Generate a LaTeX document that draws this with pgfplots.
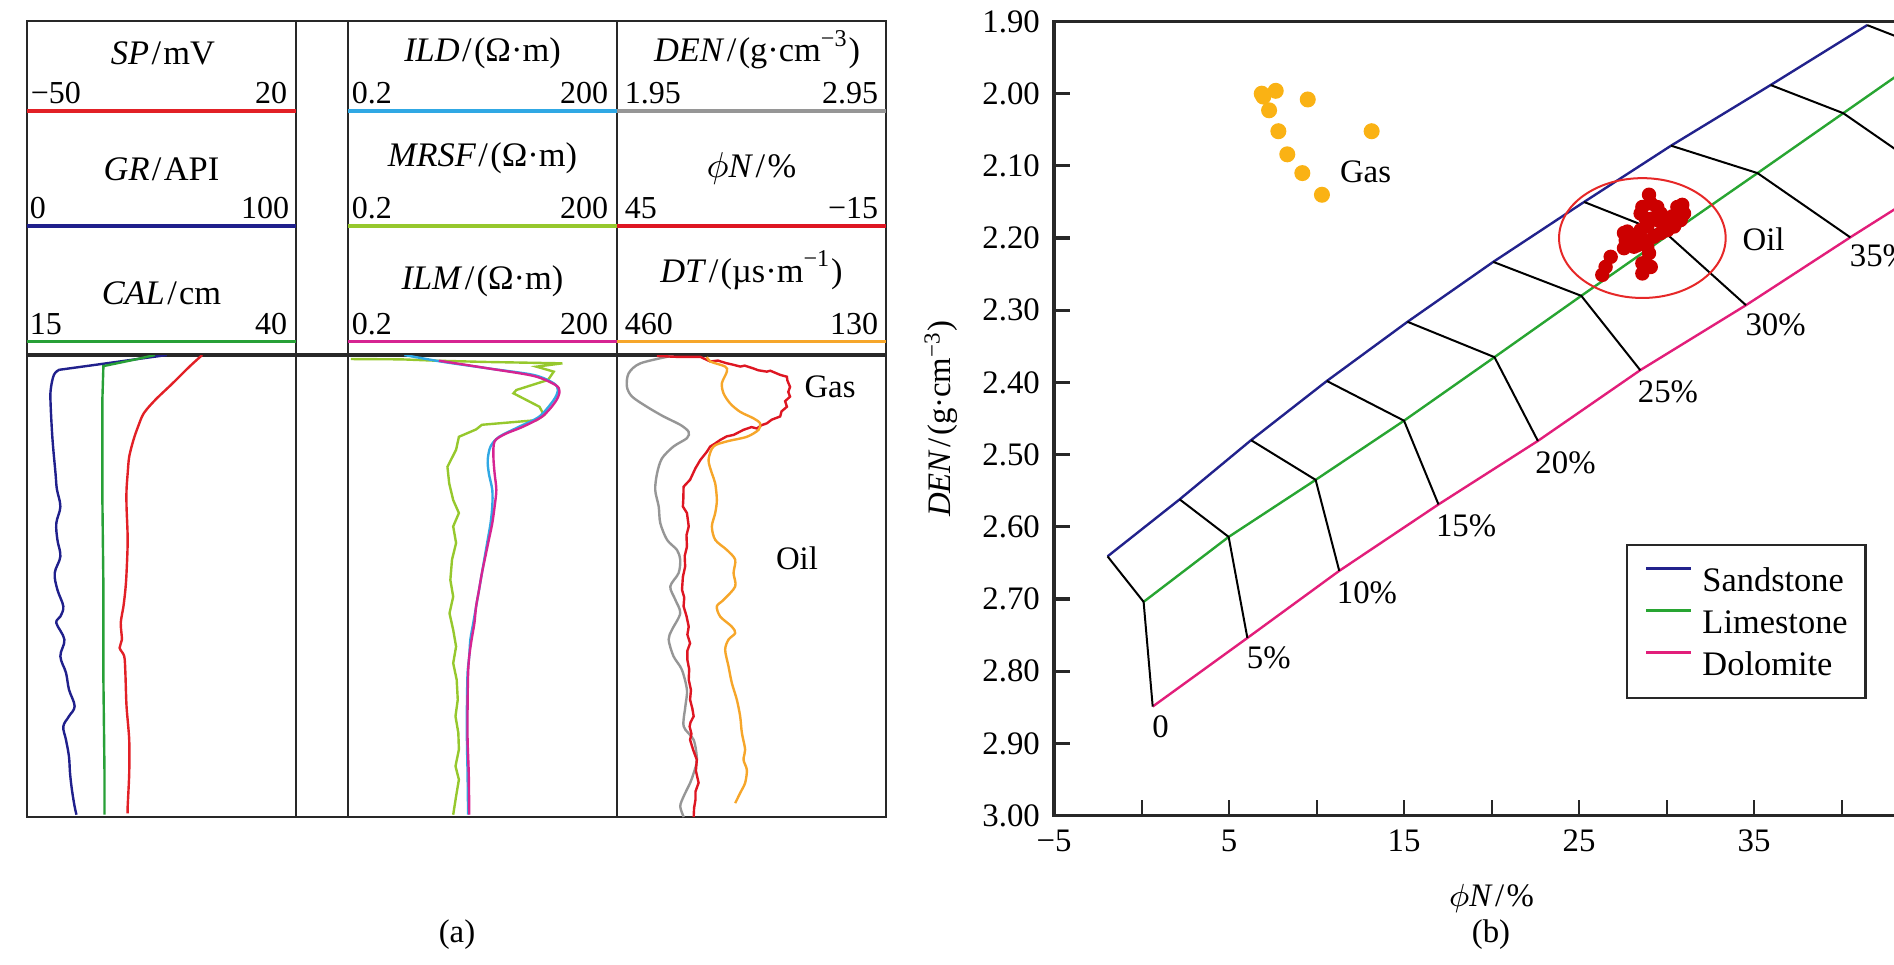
\documentclass[border=0pt]{standalone}
\usepackage{fontspec}
\setmainfont{Liberation Serif}
\usepackage{pgfplots}
\pgfplotsset{compat=1.18}

% curve and line colours
\definecolor{spc}{RGB}{226,32,38}
\definecolor{grc}{RGB}{32,32,140}
\definecolor{calc}{RGB}{40,160,55}
\definecolor{ildc}{RGB}{48,168,228}
\definecolor{mrsfc}{RGB}{150,200,45}
\definecolor{ilmc}{RGB}{214,36,146}
\definecolor{denc}{RGB}{150,150,150}
\definecolor{cnlc}{RGB}{222,22,34}
\definecolor{dtc}{RGB}{246,166,42}
\definecolor{sandc}{RGB}{34,34,140}
\definecolor{limec}{RGB}{40,165,50}
\definecolor{dolc}{RGB}{226,30,122}
\definecolor{gasc}{RGB}{250,178,20}
\definecolor{oilc}{RGB}{204,0,0}
\definecolor{ringc}{RGB}{230,40,40}
\definecolor{framec}{RGB}{40,40,40}

\newcommand\ftitle{\fontsize{8.6pt}{10pt}\selectfont}
\newcommand\fnum{\fontsize{8pt}{9pt}\selectfont}
\newcommand\flab{\fontsize{8.2pt}{10pt}\selectfont}
\newcommand\ftick{\fontsize{8.2pt}{9pt}\selectfont}
\newcommand\unitsep{\kern0.6pt/\kern0.6pt}

\pgfplotsset{
  track/.style={scale only axis, width=67.25pt, height=115.5pt,
    anchor=south west, ymin=0, ymax=100, y dir=reverse, hide axis},
  curve/.style={line width=0.6pt},
}

\begin{document}
\begin{tikzpicture}
\useasboundingbox (0,0) rectangle (473.5pt,-241pt);

% ---------- (a) log display: frame and header ----------
\begin{scope}[x=0.25pt,y=-0.25pt]
  \draw[framec, line width=0.6pt] (27,20.7) rectangle (886,817);
  \draw[framec, line width=0.6pt] (296,20.7) -- (296,817) (348,20.7) -- (348,817) (617,20.7) -- (617,817);
  \draw[framec, line width=0.8pt] (27,355) -- (886,355);
  % scale bars
  \draw[spc,  line width=0.9pt] (27,111) -- (296,111);
  \draw[grc,  line width=0.9pt] (27,226) -- (296,226);
  \draw[calc, line width=0.9pt] (27,341.5) -- (296,341.5);
  \draw[ildc, line width=0.9pt] (348,111) -- (617,111);
  \draw[mrsfc,line width=0.9pt] (348,226) -- (617,226);
  \draw[ilmc, line width=0.9pt] (348,341.5) -- (617,341.5);
  \draw[denc, line width=0.9pt] (617,111) -- (886,111);
  \draw[cnlc, line width=0.9pt] (617,226) -- (886,226);
  \draw[dtc,  line width=0.9pt] (617,341.5) -- (886,341.5);
  % curve names
  \node[anchor=base, font=\ftitle] at (163,65) {\textit{SP}\unitsep mV};
  \node[anchor=base, font=\ftitle] at (161.5,180) {\textit{GR}\unitsep API};
  \node[anchor=base, font=\ftitle] at (161.5,304) {\textit{CAL}\unitsep cm};
  \node[anchor=base, font=\ftitle] at (482.5,61) {\textit{ILD}\unitsep(Ω·m)};
  \node[anchor=base, font=\ftitle] at (482.5,166) {\textit{MRSF}\unitsep(Ω·m)};
  \node[anchor=base, font=\ftitle] at (482.5,289) {\textit{ILM}\unitsep(Ω·m)};
  \node[anchor=base, font=\ftitle] at (757,62) {\textit{DEN}\unitsep(g·cm\textsuperscript{−3})};
  \node[anchor=base, font=\ftitle] at (751.5,177) {$\phi$\textit{N}\unitsep\%};
  \node[anchor=base, font=\ftitle] at (751.5,282) {\textit{DT}\unitsep(µs·m\textsuperscript{−1})};
  % scale ends
  \node[anchor=base west, inner sep=0pt, font=\fnum] at (30,103) {−50};
  \node[anchor=base east, inner sep=0pt, font=\fnum] at (288,103) {20};
  \node[anchor=base west, inner sep=0pt, font=\fnum] at (29,218) {0};
  \node[anchor=base east, inner sep=0pt, font=\fnum] at (290,218) {100};
  \node[anchor=base west, inner sep=0pt, font=\fnum] at (29,334) {15};
  \node[anchor=base east, inner sep=0pt, font=\fnum] at (288,334) {40};
  \node[anchor=base west, inner sep=0pt, font=\fnum] at (351,103) {0.2};
  \node[anchor=base east, inner sep=0pt, font=\fnum] at (609,103) {200};
  \node[anchor=base west, inner sep=0pt, font=\fnum] at (351,218) {0.2};
  \node[anchor=base east, inner sep=0pt, font=\fnum] at (609,218) {200};
  \node[anchor=base west, inner sep=0pt, font=\fnum] at (351,334) {0.2};
  \node[anchor=base east, inner sep=0pt, font=\fnum] at (609,334) {200};
  \node[anchor=base west, inner sep=0pt, font=\fnum] at (624,103) {1.95};
  \node[anchor=base east, inner sep=0pt, font=\fnum] at (879,103) {2.95};
  \node[anchor=base west, inner sep=0pt, font=\fnum] at (624,218) {45};
  \node[anchor=base east, inner sep=0pt, font=\fnum] at (879,218) {−15};
  \node[anchor=base west, inner sep=0pt, font=\fnum] at (624,334) {460};
  \node[anchor=base east, inner sep=0pt, font=\fnum] at (879,334) {130};
  % zone names and panel captions
  \node[font=\flab] at (830,387) {Gas};
  \node[font=\flab] at (797,558) {Oil};
  \node[anchor=base, font=\flab] at (457,942) {(a)};
  \node[anchor=base, font=\flab] at (1491,942) {(b)};
\end{scope}

% ---------- track 1: SP, GR, CAL ----------
\begin{axis}[track, at={(6.75pt,-204.25pt)}, xmin=-50, xmax=20]
\addplot[curve, spc, smooth] table[x=v, y=d] {
d v
0 -4.4
2.5 -7.7
6.2 -12.2
9.7 -16.6
12.6 -19.6
15.5 -21.1
18.4 -22.3
22 -23.4
25.6 -23.8
29.2 -24.1
32.8 -24.1
40 -23.8
47.2 -24.1
50.8 -24.4
54.4 -24.9
58 -25.6
61.6 -25.3
63.4 -25.9
65.2 -24.7
68.8 -24.4
76 -24.1
83.3 -23.4
90.5 -23.4
97.7 -23.8
99.2 -23.8
};
\end{axis}
\begin{axis}[track, at={(6.75pt,-204.25pt)}, xmin=0, xmax=100]
\addplot[curve, grc] table[x=v, y=d] {
d v
0 52
3.2 12
};
\addplot[curve, grc, smooth, tension=0.6] table[x=v, y=d] {
d v
3.2 12
4.3 10
7.6 8.8
11 8.8
18.4 9.5
25.6 10.6
29 11.1
32.8 12.4
36.4 10.9
40 11.3
43.6 12.4
47.2 10.3
50.8 11.3
54.4 13.5
56.6 12.4
58 10.9
61.6 13.9
65.2 12.4
68.8 14.5
72.4 15.6
76 17.7
78.2 15.6
80.4 13.5
83.3 14.5
86.9 15.6
90.5 16
94.1 16.7
97.7 17.7
99.5 18.4
};
\end{axis}
\begin{axis}[track, at={(6.75pt,-204.25pt)}, xmin=15, xmax=40]
\addplot[curve, calc] table[x=v, y=d] {
d v
0 26.9
1.0 25.0
2.4 22.1
10 22.0
30 22.0
50 22.1
70 22.1
90 22.2
99.5 22.2
};
\end{axis}

% ---------- track 3: ILD, MRSF, ILM ----------
\begin{axis}[track, at={(87pt,-204.25pt)}, xmode=log, xmin=0.2, xmax=200]
\addplot[curve, mrsfc] table[x=v, y=d] {
d v
0.87 0.215
0.94 0.79
1.23 1.91
1.51 7.23
1.80 49.2
2.52 25.3
3.6 39.4
5.4 34.0
7.57 15.1
8.29 14.0
11.2 27.3
13.0 30.7
14.1 25.3
15.1 6.24
16.1 5.37
17.7 3.45
20.5 3.21
24.2 2.57
27.8 2.69
31.4 2.98
34.2 3.45
37.1 2.98
40.7 3.21
44.3 2.89
48.7 2.77
52.3 2.98
55.9 2.71
59.5 2.98
63.1 3.21
66.7 2.98
70.3 3.26
74.6 3.35
78.2 3.16
81.8 3.40
85.4 3.45
89.0 3.16
91.9 3.45
95.5 3.21
99.5 2.98
};
\addplot[curve, ildc, smooth] table[x=v, y=d] {
d v
0 0.85
1.44 2.22
2.88 7.23
4.33 23.6
6.13 39.4
7.57 43.8
9.73 39.4
13.3 27.3
15.5 16.3
17.7 9.70
19.8 7.78
22.7 7.23
25.6 7.44
29.2 8.13
32.8 8.13
36.4 7.78
40.0 7.23
43.6 6.71
47.2 6.23
50.8 5.79
54.4 5.37
58.0 4.99
61.6 4.63
65.2 4.50
68.9 4.31
76.1 4.24
83.3 4.24
90.5 4.31
99.5 4.37
};
\addplot[curve, ilmc, smooth] table[x=v, y=d] {
d v
1.23 2.06
2.88 7.23
4.54 23.6
6.49 41.2
7.93 45.7
10.1 41.2
13.3 29.4
15.6 17.5
17.1 11.3
18.7 8.63
22.0 8.37
25.6 8.63
29.2 9.02
32.8 8.63
36.4 8.13
40.0 7.44
43.6 6.81
47.2 6.23
50.8 5.79
54.4 5.37
58.0 5.14
61.6 4.78
65.2 4.50
68.9 4.37
76.1 4.31
83.3 4.31
90.5 4.44
99.5 4.50
};
\end{axis}

% ---------- track 4: DEN, neutron porosity, DT ----------
\begin{axis}[track, at={(154.25pt,-204.25pt)}, xmin=1.95, xmax=2.95]
\addplot[curve, denc, smooth] table[x=v, y=d] {
d v
0.1 2.160
1.8 2.037
4.0 1.993
6.9 1.987
9.0 2.006
11.2 2.061
13.3 2.123
15.1 2.185
16.6 2.216
18.0 2.210
19.8 2.160
22.4 2.117
25.6 2.099
29.2 2.092
32.8 2.105
36.4 2.111
40.0 2.136
42.2 2.173
44.3 2.185
47.2 2.179
50.1 2.148
53.0 2.167
55.9 2.185
59.5 2.154
61.6 2.142
65.2 2.160
68.1 2.191
72.5 2.210
76.1 2.204
80.4 2.198
83.3 2.235
87.6 2.247
90.5 2.235
92.6 2.222
95.5 2.198
97.7 2.185
100 2.198
};
\end{axis}
\begin{axis}[track, at={(154.25pt,-204.25pt)}, x dir=reverse, xmin=-15, xmax=45]
\addplot[curve, cnlc] table[x=v, y=d] {
d v
0.2 36.1
0.4 31.6
0.4 26.4
1.4 24.2
1.2 22.5
1.8 20.5
2.0 19.5
2.5 17.5
2.3 16.5
2.9 14.6
3.3 13.5
3.6 11.6
3.4 10.8
4.3 8.6
4.7 7.1
5.5 7.0
6.9 6.4
8.0 6.8
9.0 6.4
10 7.5
11.2 7.1
12.2 8.3
13.3 8.6
14.0 10.5
14.8 11.6
15.2 12.8
15.9 13.8
15.6 15.0
16.2 16.8
16.8 18.0
17.3 19.0
17.6 20.5
18.4 22.0
19.2 23.2
19.8 24.2
21.0 25.0
22.7 26.4
24.5 27.5
27.0 28.7
28.5 30.15
31 30.2
32.8 30.3
34.2 29.4
37.1 29.0
39 29.5
41.5 29.4
43.5 29.9
45.8 29.8
48 30.3
50.8 30.5
52.5 30.0
54.4 30.15
56.5 29.5
58.8 29.0
60.5 29.3
62.4 28.7
64 29.3
66.0 29.3
68 28.9
70.3 29.0
72.5 28.5
74.6 28.7
76.5 28.2
78.2 27.9
79.5 28.6
80.4 28.8
82 28.4
83.3 28.7
85.5 28.0
87.6 27.2
90 27.4
92.6 26.8
94.5 27.5
96.3 27.5
98 27.8
100 27.9
};
\end{axis}
\begin{axis}[track, at={(154.25pt,-204.25pt)}, x dir=reverse, xmin=130, xmax=460]
\addplot[curve, dtc, smooth] table[x=v, y=d] {
d v
0.4 349.7
1.4 345.6
2.5 327.3
3.6 325.2
6.1 331.3
8.3 329.3
10.5 321.1
12.3 308.9
13.7 292.6
14.8 284.4
16.2 286.4
17.7 300.7
18.7 325.2
19.8 341.6
22.7 347.7
25.6 343.6
27.8 339.5
31.4 337.5
34.2 339.5
37.1 343.6
40.0 339.5
42.2 325.2
44.3 315.0
47.2 317.0
50.1 315.0
53.0 329.3
54.4 337.5
56.6 333.4
58.8 319.1
60.2 315.0
61.6 323.2
63.8 327.3
67.4 323.2
71.0 319.1
74.6 313.0
78.2 308.9
81.8 306.8
85.4 302.8
87.6 304.8
89.8 300.7
92.6 302.8
94.8 308.9
97.0 315.0
};
\end{axis}

% ---------- (b) density-neutron crossplot ----------
\begin{axis}[
  scale only axis, width=218.75pt, height=198.5pt,
  at={(263.5pt,-203.875pt)}, anchor=south west,
  xmin=-5, xmax=45, ymin=1.9, ymax=3.0, y dir=reverse,
  axis line style={framec, line width=0.8pt},
  tick align=inside, tick pos=left,
  major tick length=4pt,
  xtick={-5,0,...,45},
  xticklabels={−5,,5,,15,,25,,35,,},
  ytick={1.9,2.0,2.1,2.2,2.3,2.4,2.5,2.6,2.7,2.8,2.9,3.0},
  yticklabels={1.90,2.00,2.10,2.20,2.30,2.40,2.50,2.60,2.70,2.80,2.90,3.00},
  xtick style={framec, line width=0.5pt},
  ytick style={framec, line width=0.8pt},
  ticklabel style={font=\ftick},
  xlabel={$\phi$\textit{N}\unitsep\%},
  ylabel={\textit{DEN}\unitsep(g·cm\textsuperscript{−3})},
  xlabel style={font=\flab, at={(axis description cs:0.5,-0.105)}, anchor=center},
  ylabel style={font=\flab, at={(axis description cs:-0.129,0.5)}, anchor=center},
  legend cell align=left,
  legend style={at={(0.929,0.1467)}, anchor=south east, draw=framec, line width=0.6pt,
    font=\ftitle, inner xsep=4.5pt, inner ysep=5.5pt, row sep=4.4pt,
    nodes={inner sep=0pt, text height=6pt, text depth=0pt}},
  legend image code/.code={\draw[#1, line width=0.7pt] (0pt,2.8pt) -- (11.25pt,2.8pt); \path (13.75pt,0pt);},
]
\addplot[sandc, line width=0.6pt] coordinates {
(-1.94,2.641) (2.18,2.562) (6.26,2.480) (10.59,2.398) (15.2,2.316)
(20.1,2.233) (25.29,2.150) (30.26,2.072) (35.95,1.988) (41.47,1.905)};
\addlegendentry{Sandstone}
\addplot[limec, line width=0.6pt] coordinates {
(0.12,2.704) (4.98,2.614) (9.95,2.535) (15.0,2.453) (20.17,2.365)
(25.13,2.280) (30.09,2.196) (35.2,2.110) (40.1,2.027) (45,1.944)};
\addlegendentry{Limestone}
\addplot[dolc, line width=0.6pt] coordinates {
(0.64,2.849) (6.05,2.754) (11.3,2.661) (16.97,2.569) (22.65,2.481)
(28.5,2.383) (34.54,2.293) (40.5,2.199) (45,2.130)};
\addlegendentry{Dolomite}
% equal-porosity lines
\addplot[black, line width=0.5pt, forget plot] coordinates {(-1.94,2.641) (0.12,2.704) (0.64,2.849)};
\addplot[black, line width=0.5pt, forget plot] coordinates {(2.18,2.562) (4.98,2.614) (6.05,2.754)};
\addplot[black, line width=0.5pt, forget plot] coordinates {(6.26,2.480) (9.95,2.535) (11.3,2.661)};
\addplot[black, line width=0.5pt, forget plot] coordinates {(10.59,2.398) (15.0,2.453) (16.97,2.569)};
\addplot[black, line width=0.5pt, forget plot] coordinates {(15.2,2.316) (20.17,2.365) (22.65,2.481)};
\addplot[black, line width=0.5pt, forget plot] coordinates {(20.1,2.233) (25.13,2.280) (28.5,2.383)};
\addplot[black, line width=0.5pt, forget plot] coordinates {(25.29,2.150) (30.09,2.196) (34.54,2.293)};
\addplot[black, line width=0.5pt, forget plot] coordinates {(30.26,2.072) (35.2,2.110) (40.5,2.199)};
\addplot[black, line width=0.5pt, forget plot] coordinates {(35.95,1.988) (40.1,2.027) (45.4,2.116)};
\addplot[black, line width=0.5pt, forget plot] coordinates {(41.47,1.905) (45.6,1.944)};
% oil zone outline
\draw[ringc, line width=0.5pt] (axis cs:28.62,2.200) ellipse [x radius=4.76, y radius=0.083];
% gas points
\addplot[only marks, mark=*, mark size=1.8pt, gasc, forget plot] coordinates {
(6.87,2.000) (6.96,2.004) (7.67,1.996) (9.50,2.008) (7.29,2.023)
(7.82,2.052) (13.15,2.052) (8.33,2.084) (9.19,2.110) (10.31,2.140)};
% oil points
\addplot[only marks, mark=*, mark size=1.6pt, oilc, forget plot] coordinates {
(26.33,2.251) (26.52,2.240) (26.81,2.226) (27.57,2.214) (27.67,2.203)
(27.76,2.191) (28.05,2.196) (28.52,2.189) (28.71,2.203) (28.90,2.212)
(29.00,2.221) (28.62,2.235) (28.62,2.249) (29.10,2.240) (28.52,2.166)
(28.62,2.157) (29.00,2.140) (29.10,2.152) (29.47,2.157) (29.67,2.166)
(29.86,2.175) (30.05,2.189) (29.67,2.193) (30.33,2.170) (30.62,2.157)
(30.90,2.154) (31.00,2.166) (30.81,2.175) (30.43,2.184) (29.29,2.198)
(28.90,2.184) (28.33,2.210) (28.14,2.212) (29.47,2.175) (29.19,2.173)
(28.81,2.173) (27.86,2.203) (27.57,2.193)};
% zone names
\node[font=\flab, anchor=west, inner sep=0pt] at (axis cs:11.3,2.108) {Gas};
\node[font=\flab, anchor=west, inner sep=0pt] at (axis cs:34.3,2.202) {Oil};
% porosity marks on the dolomite line
\node[font=\flab, anchor=north west, inner sep=0pt, xshift=-0.3pt, yshift=-2pt] at (axis cs:0.64,2.849) {0};
\node[font=\flab, anchor=north west, inner sep=0pt, xshift=-0.3pt, yshift=-2pt] at (axis cs:6.05,2.754) {5\%};
\node[font=\flab, anchor=north west, inner sep=0pt, xshift=-0.8pt, yshift=-2.4pt] at (axis cs:11.3,2.661) {10\%};
\node[font=\flab, anchor=north west, inner sep=0pt, xshift=-0.8pt, yshift=-2.4pt] at (axis cs:16.97,2.569) {15\%};
\node[font=\flab, anchor=north west, inner sep=0pt, xshift=-0.8pt, yshift=-2.4pt] at (axis cs:22.65,2.481) {20\%};
\node[font=\flab, anchor=north west, inner sep=0pt, xshift=-0.8pt, yshift=-2.4pt] at (axis cs:28.5,2.383) {25\%};
\node[font=\flab, anchor=north west, inner sep=0pt, xshift=-0.3pt, yshift=-1.8pt] at (axis cs:34.54,2.293) {30\%};
\node[font=\flab, anchor=north west, inner sep=0pt, xshift=-0.3pt, yshift=-1.6pt] at (axis cs:40.5,2.199) {35\%};
\end{axis}
\end{tikzpicture}
\end{document}
